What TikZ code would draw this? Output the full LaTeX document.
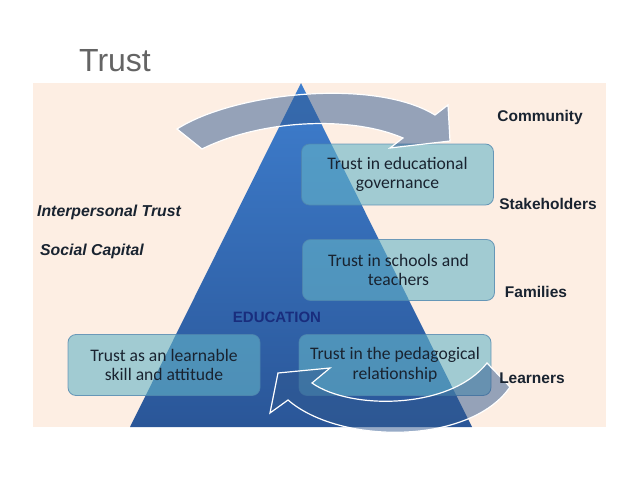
\documentclass[tikz,border=0pt]{standalone}
\usepackage{fontspec}
\setmainfont{Liberation Sans}
\newfontfamily\calfont{Carlito}
\usepackage{tikz}
\usetikzlibrary{positioning}
\definecolor{peach}{RGB}{253,238,227}
\definecolor{pyrtop}{RGB}{62,126,206}
\definecolor{pyrbot}{RGB}{42,86,152}
\definecolor{teal}{RGB}{100,180,200}
\definecolor{tealedge}{RGB}{80,135,175}
\definecolor{arrowgrey}{RGB}{47,88,143}
\definecolor{ink}{RGB}{25,35,48}
\definecolor{navy}{RGB}{25,45,125}
\definecolor{titlegrey}{RGB}{100,100,100}
\tikzset{
  tbox/.style={draw=tealedge,fill=teal,fill opacity=0.6,draw opacity=0.8,text opacity=1,line width=0.8pt,rounded corners=8pt,minimum width=192pt,minimum height=61pt,align=center,text=ink,font=\calfont\fontsize{17.6}{19.5}\selectfont},
  side/.style={font=\bfseries\fontsize{15.5}{18}\selectfont,text=ink,inner sep=0pt},
  cycarrow/.style={fill=arrowgrey,fill opacity=0.5,draw=white,line width=1.2pt,line join=miter},
}

\begin{document}
\begin{tikzpicture}[x=1pt,y=-1pt]
\useasboundingbox (0,0) rectangle (638,479);
% backdrop and pyramid
\fill[peach] (33,83) rectangle (606,427);
\shade[top color=pyrtop,bottom color=pyrbot] (301,83) -- (472,427) -- (130,427) -- cycle;
\node[font=\fontsize{32}{36}\selectfont,text=titlegrey] (title) at (115,61) {Trust};
% trust boxes
\node[tbox] (gov) at (397.5,174.5) {Trust in educational\\governance};
\node[tbox] (school) at (398.5,270) {Trust in schools and\\teachers};
\node[tbox] (peda) at (395,365) {Trust in the pedagogical\\relationship};
\node[tbox] (skill) at (164,365) {Trust as an learnable\\skill and attitude};
% curved block arrows
\draw[cycarrow] (177,129) .. controls (235,92) and (375,78) .. (435,115)
  -- (448,105) -- (450,141) -- (390,148) -- (403,138)
  .. controls (350,115) and (260,120) .. (202,149) -- cycle;
\draw[cycarrow] (487,363) .. controls (450,410) and (350,410) .. (312,383)
  -- (330,368) -- (278,373) -- (270,413) -- (288,400)
  .. controls (340,445) and (470,445) .. (510,387) -- cycle;
% labels
\node[side] (community) at (540,117) {Community};
\node[side] (stake) at (548,204) {Stakeholders};
\node[side] (families) at (536,292) {Families};
\node[side] (learners) at (532,378) {Learners};
\node[side,font=\bfseries\itshape\fontsize{15.8}{18}\selectfont,anchor=west] (inter) at (37,212) {Interpersonal Trust};
\node[side,font=\bfseries\itshape\fontsize{15.8}{18}\selectfont,anchor=west] (social) at (40,251) {Social Capital};
\node[side,text=navy,font=\bfseries\fontsize{15}{18}\selectfont] (edu) at (277,317) {EDUCATION};
\end{tikzpicture}
\end{document}
